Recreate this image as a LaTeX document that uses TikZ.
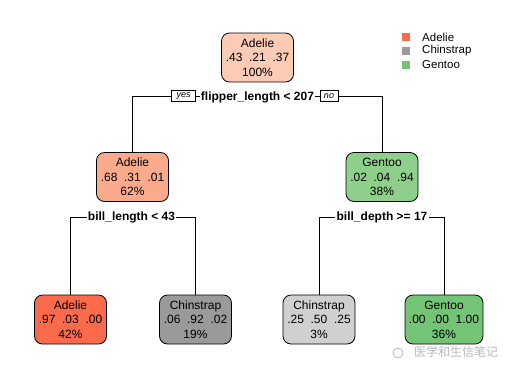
\documentclass[tikz,border=0pt]{standalone}
\usepackage{fontspec}
\setmainfont{Liberation Sans}
\newfontfamily\cjk{Noto Sans CJK SC}
\definecolor{cRoot}{RGB}{252,203,181}
\definecolor{cAdA}{RGB}{252,170,140}
\definecolor{cAdB}{RGB}{251,106,74}
\definecolor{cGeA}{RGB}{142,208,138}
\definecolor{cGeB}{RGB}{116,196,118}
\definecolor{cChA}{RGB}{154,154,154}
\definecolor{cChB}{RGB}{208,208,208}
\definecolor{wm}{RGB}{185,185,185}
\begin{document}
\begin{tikzpicture}[x=1pt,y=-1pt,
  tnode/.style={draw=black,line width=0.8pt,rounded corners=8pt,minimum width=72pt,minimum height=49pt,
    align=center,inner sep=1pt,font=\fontsize{12}{14.5}\selectfont},
  splitlab/.style={fill=white,inner sep=1pt,font=\fontsize{12}{14}\selectfont\bfseries},
  yn/.style={draw=black,line width=0.6pt,fill=white,inner sep=0.8pt,minimum height=10.5pt,font=\fontsize{9}{10}\selectfont\itshape},
  conn/.style={line width=0.8pt},
  legsq/.style={minimum size=8pt,inner sep=0pt},
  legtx/.style={anchor=west,inner sep=0pt,font=\fontsize{11.5}{12}\selectfont}]
\useasboundingbox[fill=white] (0,0) rectangle (516,373);
% nodes
\node[tnode,fill=cRoot] (n1) at (257.5,57.5) {Adelie\\.43~~.21~~.37\\100\%};
\node[tnode,fill=cAdA] (n2) at (132.5,177) {Adelie\\.68~~.31~~.01\\62\%};
\node[tnode,fill=cGeA] (n3) at (382,177) {Gentoo\\.02~~.04~~.94\\38\%};
\node[tnode,fill=cAdB] (n4) at (70.5,319.5) {Adelie\\.97~~.03~~.00\\42\%};
\node[tnode,fill=cChA] (n5) at (195.5,319.5) {Chinstrap\\.06~~.92~~.02\\19\%};
\node[tnode,fill=cChB] (n6) at (319,319.5) {Chinstrap\\.25~~.50~~.25\\3\%};
\node[tnode,fill=cGeB,minimum width=78pt] (n7) at (444,319.5) {Gentoo\\.00~~.00~~1.00\\36\%};
% split labels
\node[splitlab] (s1) at (257.5,97) {flipper\_length < 207};
\node[yn,minimum width=24pt] (yes) at (183.5,96) {yes};
\node[yn,minimum width=18pt] (no) at (329,96) {no};
\node[splitlab] (s2) at (131.5,217) {bill\_length < 43};
\node[splitlab] (s3) at (382,217) {bill\_depth >= 17};
% connectors
\draw[conn] (yes.west) -| (n2.north);
\draw[conn] (yes.east) -- (yes.east -| s1.west);
\draw[conn] (no.west -| s1.east) -- (no.west);
\draw[conn] (no.east) -| (n3.north);
\draw[conn] (s2.west) -| (n4.north);
\draw[conn] (s2.east) -| (n5.north);
\draw[conn] (s3.west) -| (n6.north);
\draw[conn] (s3.east) -| (n7.north);
% legend
\node[legsq,fill=cAdB] (l1) at (406,37) {};
\node[legsq,fill=cChA] (l2) at (406,51) {};
\node[legsq,fill=cGeB] (l3) at (406,65) {};
\node[legtx] (t1) at (422,37) {Adelie};
\node[legtx] (t2) at (422,51) {Chinstrap};
\node[legtx] (t3) at (422,65) {Gentoo};
% watermark
\draw[wm,line width=0.8pt] (398,353) circle (5pt);
\node[anchor=west,inner sep=0pt,text=wm,font=\cjk\fontsize{12}{12}\selectfont] (wmk) at (414,352) {医学和生信笔记};
\end{tikzpicture}
\end{document}
